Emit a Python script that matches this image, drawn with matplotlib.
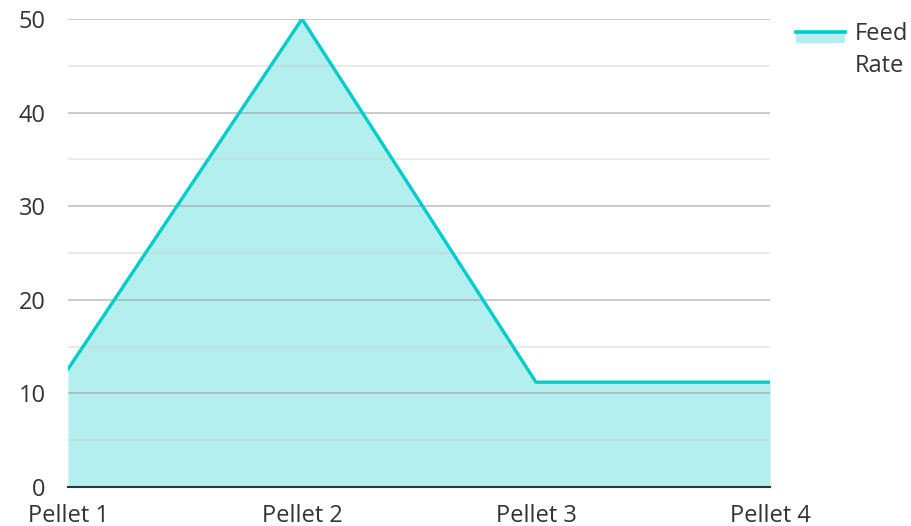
import matplotlib.pyplot as plt
from matplotlib.patches import Rectangle
from matplotlib.lines import Line2D

categories = ["Pellet 1", "Pellet 2", "Pellet 3", "Pellet 4"]
feed_rate = [12.6, 50, 11.2, 11.2]
series_name = "Feed\nRate"

line_color = "#00CCCC"
fill_color = "#B2EFEE"
text_color = "#333333"

plt.rcParams['font.family'] = ['Open Sans', 'DejaVu Sans']

fig = plt.figure(figsize=(9.11, 5.26), dpi=100)
ax = fig.add_axes([68 / 911, 39 / 526, 702 / 911, 468 / 526])

x = list(range(len(categories)))
ax.fill_between(x, feed_rate, 0, color=fill_color, lw=0, zorder=1)
ax.plot(x, feed_rate, color=line_color, lw=2.4, zorder=3)

ax.set_xlim(0, len(categories) - 1)
ax.set_ylim(0, 50)
ax.set_yticks([0, 10, 20, 30, 40, 50])
ax.set_yticks([5, 15, 25, 35, 45], minor=True)
ax.set_xticks(x)
ax.set_xticklabels(categories)

ax.grid(axis='y', which='major', color='#999999', alpha=0.6, lw=1.2, zorder=2)
ax.grid(axis='y', which='minor', color='#cccccc', alpha=0.5, lw=1.2, zorder=2)
ax.set_axisbelow(False)

for s in ['top', 'right', 'left']:
    ax.spines[s].set_visible(False)
ax.spines['bottom'].set_color('#333333')
ax.spines['bottom'].set_linewidth(1.5)
ax.spines['bottom'].set_zorder(4)

ax.tick_params(axis='both', which='both', length=0, labelsize=17, colors=text_color)
ax.tick_params(axis='y', pad=16)
ax.tick_params(axis='x', pad=12)

# legend
fig.add_artist(Rectangle((796 / 911, 1 - 43 / 526), 49 / 911, 12 / 526,
                         transform=fig.transFigure, color=fill_color, lw=0))
fig.add_artist(Line2D([796 / 911, 845 / 911], [1 - 32 / 526, 1 - 32 / 526],
                      transform=fig.transFigure, color=line_color, lw=2.6))
fig.text(855 / 911, 1 - 50 / 526, series_name, fontsize=17, color=text_color,
         va='center', ha='left', linespacing=1.5)

fig.savefig("out.png", dpi=100)
